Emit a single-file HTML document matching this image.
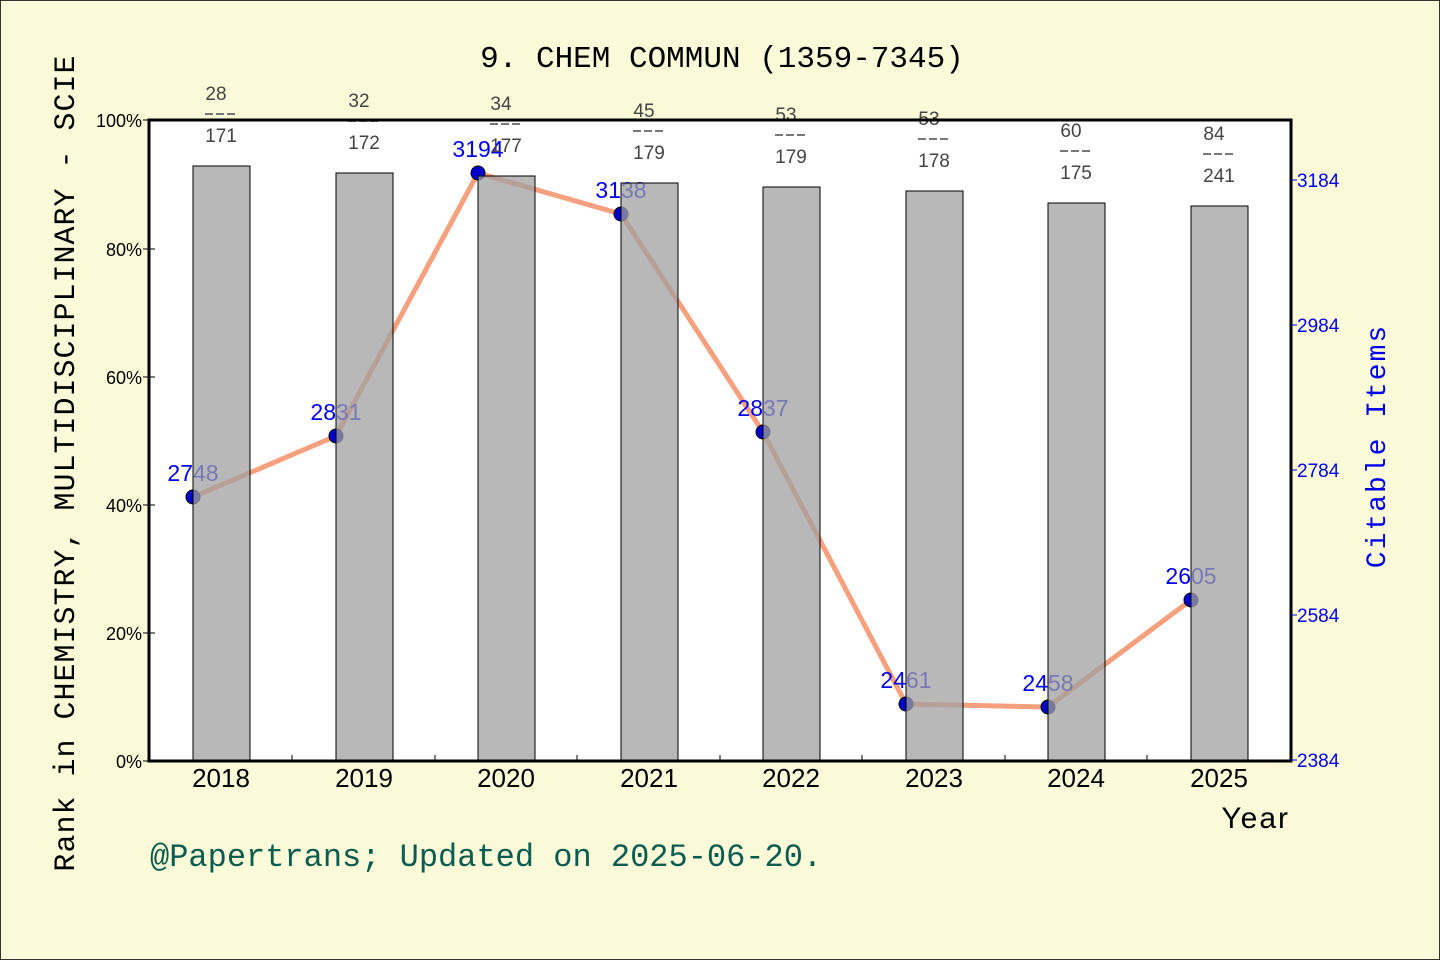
<!DOCTYPE html>
<html><head><meta charset="utf-8"><style>
html,body{margin:0;padding:0;background:#fafad9}
svg{display:block}
</style></head><body>
<svg width="1440" height="960" viewBox="0 0 1440 960" xmlns="http://www.w3.org/2000/svg">
<rect x="0.5" y="0.5" width="1439" height="959" fill="#fafad9" stroke="#333" stroke-width="1"/>
<text x="722" y="67" text-anchor="middle" font-family="Liberation Mono, monospace" font-size="31" fill="#000">9. CHEM COMMUN (1359-7345)</text>
<rect x="149" y="120" width="1142" height="641" fill="#fff"/>
<polyline points="193,497 336,436 478,173 621,214 763,432 906,704 1048,707 1191,600" fill="none" stroke="#f7a07e" stroke-width="5" stroke-linejoin="round"/>
<g fill="#0000cc" stroke="#000" stroke-width="1">
<circle cx="193" cy="497" r="7"/><circle cx="336" cy="436" r="7"/><circle cx="478" cy="173" r="7"/><circle cx="621" cy="214" r="7"/><circle cx="763" cy="432" r="7"/><circle cx="906" cy="704" r="7"/><circle cx="1048" cy="707" r="7"/><circle cx="1191" cy="600" r="7"/>
</g>
<g font-family="Liberation Sans, sans-serif" font-size="23" fill="#0000ee" text-anchor="middle">
<text x="193" y="481">2748</text><text x="336" y="420">2831</text><text x="478" y="157">3194</text><text x="621" y="198">3138</text><text x="763" y="416">2837</text><text x="906" y="688">2461</text><text x="1048" y="691">2458</text><text x="1191" y="584">2605</text>
</g>
<g fill="#a0a0a0" fill-opacity="0.75" stroke="#000" stroke-width="1">
<rect x="193" y="166" width="57" height="595"/>
<rect x="336" y="173" width="57" height="588"/>
<rect x="478" y="176" width="57" height="585"/>
<rect x="621" y="183" width="57" height="578"/>
<rect x="763" y="187" width="57" height="574"/>
<rect x="906" y="191" width="57" height="570"/>
<rect x="1048" y="203" width="57" height="558"/>
<rect x="1191" y="206" width="57" height="555"/>
</g>
<g font-family="Liberation Sans, sans-serif" font-size="19" fill="#444" text-anchor="middle">
<text x="216" y="100">28</text><text x="221" y="142">171</text>
<text x="359" y="107">32</text><text x="364" y="149">172</text>
<text x="501" y="110">34</text><text x="506" y="152">177</text>
<text x="644" y="117">45</text><text x="649" y="159">179</text>
<text x="786" y="121">53</text><text x="791" y="163">179</text>
<text x="929" y="125">53</text><text x="934" y="167">178</text>
<text x="1071" y="137">60</text><text x="1076" y="179">175</text>
<text x="1214" y="140">84</text><text x="1219" y="182">241</text>
</g>
<g stroke="#777" stroke-width="2" stroke-dasharray="8,3">
<line x1="205" y1="114" x2="238" y2="114"/>
<line x1="348" y1="121" x2="381" y2="121"/>
<line x1="490" y1="124" x2="523" y2="124"/>
<line x1="633" y1="131" x2="666" y2="131"/>
<line x1="775" y1="135" x2="808" y2="135"/>
<line x1="918" y1="139" x2="951" y2="139"/>
<line x1="1060" y1="151" x2="1093" y2="151"/>
<line x1="1203" y1="154" x2="1236" y2="154"/>
</g>
<rect x="149" y="120" width="1142" height="641" fill="none" stroke="#000" stroke-width="3"/>
<g stroke="#000" stroke-width="1">
<line x1="143" y1="120" x2="149" y2="120"/><line x1="143" y1="249" x2="155" y2="249"/><line x1="143" y1="377" x2="155" y2="377"/><line x1="143" y1="505" x2="155" y2="505"/><line x1="143" y1="633" x2="155" y2="633"/><line x1="143" y1="761" x2="149" y2="761"/>
<line x1="292" y1="755" x2="292" y2="761"/><line x1="435" y1="755" x2="435" y2="761"/><line x1="577" y1="755" x2="577" y2="761"/><line x1="720" y1="755" x2="720" y2="761"/><line x1="862" y1="755" x2="862" y2="761"/><line x1="1005" y1="755" x2="1005" y2="761"/><line x1="1147" y1="755" x2="1147" y2="761"/>
</g>
<g font-family="Liberation Sans, sans-serif" font-size="18" fill="#000" text-anchor="end">
<text x="142" y="127">100%</text><text x="142" y="256">80%</text><text x="142" y="384">60%</text><text x="142" y="512">40%</text><text x="142" y="640">20%</text><text x="142" y="768">0%</text>
</g>
<g font-family="Liberation Sans, sans-serif" font-size="26" fill="#000" text-anchor="middle">
<text x="221" y="787">2018</text><text x="364" y="787">2019</text><text x="506" y="787">2020</text><text x="649" y="787">2021</text><text x="791" y="787">2022</text><text x="934" y="787">2023</text><text x="1076" y="787">2024</text><text x="1219" y="787">2025</text>
</g>
<text x="1290" y="828" text-anchor="end" font-family="Liberation Sans, sans-serif" font-size="30" fill="#000" letter-spacing="2">Year</text>
<g stroke="#0000ee" stroke-width="1">
<line x1="1291" y1="180" x2="1297" y2="180"/><line x1="1291" y1="325" x2="1297" y2="325"/><line x1="1291" y1="470" x2="1297" y2="470"/><line x1="1291" y1="615" x2="1297" y2="615"/><line x1="1291" y1="760" x2="1297" y2="760"/>
</g>
<g font-family="Liberation Sans, sans-serif" font-size="19" fill="#0000ee">
<text x="1297" y="187">3184</text><text x="1297" y="332">2984</text><text x="1297" y="477">2784</text><text x="1297" y="622">2584</text><text x="1297" y="767">2384</text>
</g>
<text transform="translate(1385,446) rotate(-90)" text-anchor="middle" font-family="Liberation Mono, monospace" font-size="28" fill="#0000ee" letter-spacing="2">Citable Items</text>
<text transform="translate(74,463) rotate(-90)" text-anchor="middle" font-family="Liberation Mono, monospace" font-size="30" fill="#000" letter-spacing="1">Rank in CHEMISTRY, MULTIDISCIPLINARY - SCIE</text>
<text x="150" y="866" font-family="Liberation Mono, monospace" font-size="32" fill="#0b5c50">@Papertrans; Updated on 2025-06-20.</text>
</svg>
</body></html>
